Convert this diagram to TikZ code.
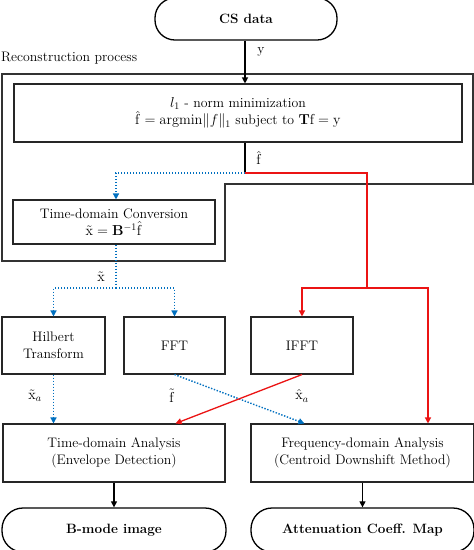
\documentclass[tikz,border=0pt]{standalone}
\usetikzlibrary{arrows.meta}
\definecolor{bl}{RGB}{0,112,192}
\definecolor{rd}{RGB}{235,20,20}
\begin{document}
\begin{tikzpicture}[x=1pt,y=-1pt,
  txt/.style={font=\fontsize{13.8}{17.5}\selectfont},
  box/.style={draw, line width=1.1pt, draw=black!85, align=center, inner sep=0pt, txt},
  stad/.style={draw, line width=1.3pt, align=center, inner sep=0pt, font=\fontsize{13.5}{17}\selectfont\bfseries},
  tip/.style={-{Triangle[length=6pt,width=6pt]}},
  barr/.style={line width=1.1pt, tip},
  bdot/.style={bl, line width=1.4pt, dash pattern=on 1.4pt off 1.6pt},
  bdarr/.style={bdot, tip},
  rline/.style={rd, line width=1.3pt},
  rarr/.style={rline, tip},
  lab/.style={txt, inner sep=0pt}
]
\clip (0,0) rectangle (474,550);
\fill[white] (0,0) rectangle (474,550);

% outer reconstruction region
\draw[line width=1.4pt, draw=black!80] (2,74) -- (473,74) -- (473,184) -- (225,184) -- (225,261) -- (2,261) -- cycle;
\node[lab, anchor=west] (rp) at (1,58) {Reconstruction process};

% nodes
\node[stad, rounded corners=20pt, minimum width=182pt, minimum height=42pt] (cs) at (246,19) {CS data};
\node[box, minimum width=448pt, minimum height=58pt] (l1) at (238,113)
  {$l_1$ - norm minimization\\ $\hat{\mathrm{f}}=\mathrm{argmin}\|f\|_1$ subject to $\mathbf{T}\mathrm{f}=\mathrm{y}$};
\node[box, minimum width=202pt, minimum height=44pt] (tdc) at (114,222)
  {Time-domain Conversion\\ $\tilde{\mathrm{x}}=\mathbf{B}^{-1}\hat{\mathrm{f}}$};
\node[box, minimum width=103pt, minimum height=57pt] (hil) at (53.5,345.5) {Hilbert\\Transform};
\node[box, minimum width=101pt, minimum height=57pt] (fft) at (174.5,345.5) {FFT};
\node[box, minimum width=102pt, minimum height=57pt] (ifft) at (302,345.5) {IFFT};
\node[box, minimum width=222pt, minimum height=58pt] (tda) at (114,453)
  {Time-domain Analysis\\(Envelope Detection)};
\node[box, minimum width=223pt, minimum height=58pt] (fda) at (362.5,453)
  {Frequency-domain Analysis\\(Centroid Downshift Method)};
\node[stad, rounded corners=21pt, minimum width=224pt, minimum height=44pt] (bm) at (114,530) {B-mode image};
\node[stad, rounded corners=21pt, minimum width=223pt, minimum height=44pt] (att) at (362.5,530) {Attenuation Coeff. Map};

% junctions
\coordinate (j1) at (245,173);
\coordinate (j2) at (367,288);
\coordinate (j3) at (116,288);

% connectors
\draw[barr] (cs.south -| j1) -- (j1 |- l1.north);
\draw[line width=1.1pt] (j1 |- l1.south) -- (j1);
\draw[bdarr] (j1) -| (tdc.north -| 116,0);
\draw[rline] (j1) -| (j2);
\draw[rarr] (j2) -| (ifft.north);
\draw[rarr] (j2) -| ([xshift=65.5pt]fda.north);
\draw[bdot] (tdc.south -| j3) -- (j3);
\draw[bdarr] (j3) -| (hil.north);
\draw[bdarr] (j3) -| (fft.north);
\draw[bdarr] (hil.south) -- (hil.south |- tda.north);
\draw[bdarr] (fft.south) -- ([xshift=54pt]fda.north west);
\draw[rarr] (ifft.south) -- ([xshift=-50pt]tda.north east);
\draw[barr] (tda.south) -- (bm.north);
\draw[barr] (fda.south) -- (att.north);

% labels
\node[lab] (ly) at (261,52) {y};
\node[lab] (lf) at (259,158) {$\hat{\mathrm{f}}$};
\node[lab] (lx) at (101,277) {$\tilde{\mathrm{x}}$};
\node[lab] (lxa) at (35,396) {$\tilde{\mathrm{x}}_a$};
\node[lab] (lft) at (172,396) {$\tilde{\mathrm{f}}$};
\node[lab] (lxh) at (302,396) {$\hat{\mathrm{x}}_a$};
\end{tikzpicture}
\end{document}
